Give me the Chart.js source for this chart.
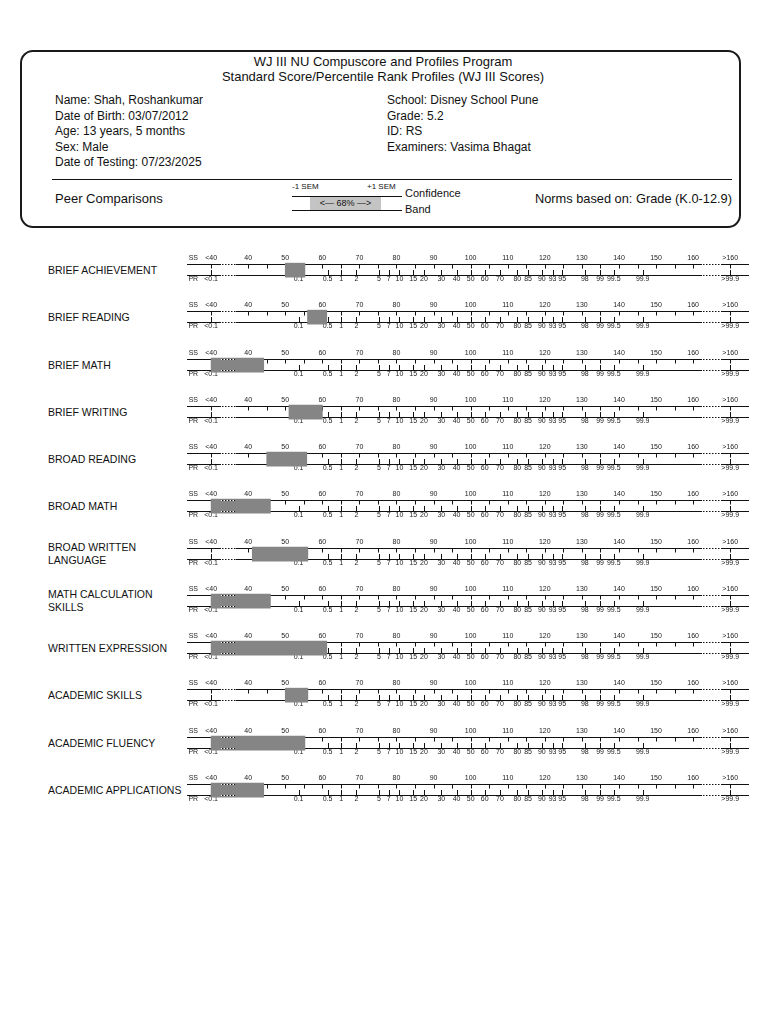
<!DOCTYPE html>
<html lang="en">
<head>
    <meta charset="UTF-8">
    <title>Standard Score/Percentile Rank Profiles</title>
    <script src="https://cdn.jsdelivr.net/npm/chart.js@4.4.1/dist/chart.umd.min.js"></script>
    <style>
        body { margin: 0; width: 768px; height: 1024px; position: relative; overflow: hidden;
               background: #fff; color: #111; font-family: "Liberation Sans", Arial, sans-serif; }
        .abs { position: absolute; white-space: nowrap; }
        #box { position: absolute; left: 20px; top: 50px; width: 717px; height: 174px;
               border: 2px solid #1a1a1a; border-radius: 13px; }
        .title { left: 22px; width: 722px; text-align: center; font-size: 13px; line-height: 15px; }
        .info { top: 93px; font-size: 12px; line-height: 15.5px; }
        .rowlabel { left: 48px; font-size: 10.5px; line-height: 13px; transform: translateY(-50%); }
        canvas.row { position: absolute; left: 180px; }
    </style>
</head>
<body>
    <div id="box"></div>
    <div class="abs title" style="top:54px">WJ III NU Compuscore and Profiles Program</div>
    <div class="abs title" style="top:69px">Standard Score/Percentile Rank Profiles (WJ III Scores)</div>
    <div class="abs info" style="left:55px">Name: Shah, Roshankumar<br>Date of Birth: 03/07/2012<br>Age: 13 years, 5 months<br>Sex: Male<br>Date of Testing: 07/23/2025</div>
    <div class="abs info" style="left:387px">School: Disney School Pune<br>Grade: 5.2<br>ID: RS<br>Examiners: Vasima Bhagat</div>
    <div class="abs" style="left:52px; top:179px; width:680px; border-top:1px solid #111"></div>
    <div class="abs" style="left:55px; top:191px; font-size:13px; line-height:16px">Peer Comparisons</div>

    <!-- confidence band legend -->
    <div class="abs" style="left:292px; top:182px; font-size:8px; line-height:10px">-1 SEM</div>
    <div class="abs" style="left:367px; top:182px; font-size:8px; line-height:10px">+1 SEM</div>
    <div class="abs" style="left:292px; top:196px; width:110px; border-top:1px solid #111"></div>
    <div class="abs" style="left:310px; top:197px; width:71px; height:13px; background:#c4c4c4; font-size:9px; line-height:13px; text-align:center">&lt;— 68% —&gt;</div>
    <div class="abs" style="left:292px; top:210px; width:110px; border-top:1px solid #111"></div>
    <div class="abs" style="left:405px; top:187px; font-size:11px; line-height:13px">Confidence</div>
    <div class="abs" style="left:405px; top:203px; font-size:11px; line-height:13px">Band</div>
    <div class="abs" style="right:36px; top:191px; font-size:12.8px; line-height:16px">Norms based on: Grade (K.0-12.9)</div>

    <script>
        // row names
        const categories = [
            'BRIEF ACHIEVEMENT', 'BRIEF READING', 'BRIEF MATH', 'BRIEF WRITING',
            'BROAD READING', 'BROAD MATH', 'BROAD WRITTEN\nLANGUAGE', 'MATH CALCULATION\nSKILLS',
            'WRITTEN EXPRESSION', 'ACADEMIC SKILLS', 'ACADEMIC FLUENCY', 'ACADEMIC APPLICATIONS'
        ];

        // confidence band (-1 SEM .. +1 SEM), in standard score units (<40 = 30)
        const bandLow  = [50,   56,   30,   51, 45,   30, 41.1, 30, 30,   50,   30,   30];
        const bandHigh = [55.3, 61.2, 44.2, 60, 55.8, 46, 56.1, 46, 61.2, 56.1, 55.3, 44.2];

        // SS axis
        const ssValues = [30, 40, 50, 60, 70, 80, 90, 100, 110, 120, 130, 140, 150, 160, 170];
        const ssLabels = ['<40', '40', '50', '60', '70', '80', '90', '100', '110', '120', '130', '140', '150', '160', '>160'];
        const ssMinor  = [45, 55, 65, 75, 85, 95, 105, 115, 125, 135, 145, 155];

        // PR axis: where each percentile sits on the SS scale
        const prValues = [30, 53.6, 61.4, 65.1, 69.2, 75.3, 77.9, 80.8, 84.5, 87.4, 92.1, 96.2, 100,
                          103.8, 107.9, 112.6, 115.5, 119.2, 122.1, 124.7, 130.8, 134.9, 138.6, 146.4, 170];
        const prLabels = ['<0.1', '0.1', '0.5', '1', '2', '5', '7', '10', '15', '20', '30', '40', '50',
                          '60', '70', '80', '85', '90', '93', '95', '98', '99', '99.5', '99.9', '>99.9'];

        const SS_MIN = 23.5, SS_MAX = 174.8;
        const NAME_AT = 25.2;
        const BREAKS = [[32.6, 36.6], [162.3, 167.4]];
        const ROW_TOP = 252, ROW_STEP = 47.27;

        Chart.defaults.font.family = '"Liberation Sans", Arial, sans-serif';

        function axis(position, values, labels, name, height, pad) {
            return {
                type: 'linear', axis: 'x', position: position, min: SS_MIN, max: SS_MAX,
                grid: { display: false, drawTicks: false },
                border: { display: true, color: '#111', width: 1 },
                afterBuildTicks: s => { s.ticks = [NAME_AT, ...values].map(v => ({ value: v })); },
                afterFit: s => { s.height = height; },
                ticks: {
                    autoSkip: false, maxRotation: 0, minRotation: 0, padding: pad,
                    color: '#222', font: { size: 7 },
                    callback: (v, idx) => idx === 0 ? name : labels[idx - 1]
                }
            };
        }

        // short tick marks pointing inward, and the dotted breaks in both lines
        const rowMarks = {
            id: 'rowMarks',
            beforeDatasetsDraw(chart) {
                const { ctx, chartArea: { top, bottom } } = chart;
                const ss = chart.scales.ss, pr = chart.scales.pr;
                ctx.save();
                ctx.strokeStyle = '#111';
                ctx.lineWidth = 1;
                ctx.beginPath();
                [...ssValues, ...ssMinor].forEach(v => {
                    const x = Math.round(ss.getPixelForValue(v)) + 0.5;
                    ctx.moveTo(x, top);
                    ctx.lineTo(x, top + 4.5);
                });
                prValues.forEach(v => {
                    const x = Math.round(pr.getPixelForValue(v)) + 0.5;
                    ctx.moveTo(x, bottom + 1);
                    ctx.lineTo(x, bottom - 5);
                });
                ctx.stroke();
                ctx.restore();
            },
            afterDatasetsDraw(chart) {
                const { ctx, chartArea: { top, bottom } } = chart;
                const ss = chart.scales.ss;
                ctx.save();
                BREAKS.forEach(([a, b]) => {
                    const x1 = Math.round(ss.getPixelForValue(a));
                    const x2 = Math.round(ss.getPixelForValue(b));
                    [Math.round(top), Math.round(bottom)].forEach(y => {
                        ctx.fillStyle = '#fff';
                        ctx.fillRect(x1, y, x2 - x1, 1);
                        ctx.fillStyle = '#111';
                        for (let x = x1 + 1; x < x2 - 1; x += 3) ctx.fillRect(x, y, 1.5, 1);
                    });
                });
                ctx.restore();
            }
        };

        categories.forEach((name, i) => {
            const top = ROW_TOP + Math.round(i * ROW_STEP);

            const label = document.createElement('div');
            label.className = 'abs rowlabel';
            label.style.top = (top + 18) + 'px';
            label.innerHTML = name.replace('\n', '<br>');
            document.body.appendChild(label);

            const canvas = document.createElement('canvas');
            canvas.className = 'row';
            canvas.width = 575;
            canvas.height = 36;
            canvas.style.top = top + 'px';
            document.body.appendChild(canvas);

            new Chart(canvas, {
                type: 'bar',
                data: {
                    datasets: [{
                        data: [{ x: [bandLow[i], bandHigh[i]], y: 6.8 }],
                        backgroundColor: '#858585',
                        borderWidth: 0,
                        barThickness: 14,
                        clip: false,
                        xAxisID: 'ss',
                        yAxisID: 'y'
                    }]
                },
                options: {
                    indexAxis: 'y',
                    responsive: false,
                    animation: false,
                    layout: { padding: { left: 7, right: 7, top: 0, bottom: 0 } },
                    plugins: { legend: { display: false }, tooltip: { enabled: false } },
                    scales: {
                        y: { type: 'linear', min: 0, max: 11, reverse: true, display: false },
                        ss: axis('top', ssValues, ssLabels, 'SS', 12, 2),
                        pr: axis('bottom', prValues, prLabels, 'PR', 13, 0)
                    }
                },
                plugins: [rowMarks]
            });
        });
    </script>
</body>
</html>
